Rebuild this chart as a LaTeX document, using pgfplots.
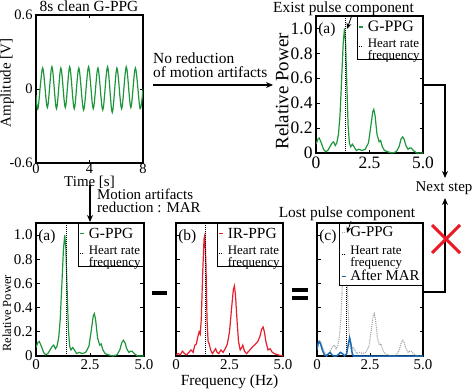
\documentclass[border=0pt]{standalone}
\usepackage{fontspec}
\setmainfont{Liberation Serif}
\usepackage{pgfplots}
\pgfplotsset{compat=1.18}
\usepackage{pgfplotstable}
\usetikzlibrary{arrows.meta}

\definecolor{ppggreen}{RGB}{30,150,60}
\definecolor{irred}{RGB}{230,30,45}
\definecolor{marblue}{RGB}{25,105,180}
\definecolor{xred}{RGB}{235,25,35}
\definecolor{ppggray}{RGB}{165,165,165}

\newcommand{\fs}[1]{\fontsize{#1}{#1}\selectfont}

\pgfplotstableread{
t v
0 -0.05
0.15 -0.16
0.5 0.17
0.85 -0.15
1.19 0.18
1.53 -0.16
1.86 0.17
2.19 -0.15
2.52 0.18
2.86 -0.16
3.2 0.17
3.56 -0.17
3.93 0.18
4.28 -0.16
4.63 0.17
4.99 -0.17
5.35 0.18
5.7 -0.19
6.05 0.17
6.4 -0.16
6.75 0.18
7.09 -0.15
7.43 0.17
7.78 -0.16
8.0 0.0
}\signal

\pgfplotstableread{
f p
0 0.07
0.08 0.11
0.15 0.12
0.25 0.08
0.35 0.03
0.45 0.01
0.55 0.02
0.65 0.05
0.75 0.08
0.82 0.09
0.9 0.06
0.97 0.08
1.05 0.15
1.12 0.3
1.2 0.6
1.27 0.88
1.33 1.0
1.38 0.9
1.44 0.55
1.5 0.22
1.56 0.08
1.62 0.05
1.7 0.07
1.78 0.05
1.88 0.02
2.0 0.03
2.15 0.02
2.3 0.03
2.45 0.08
2.55 0.2
2.65 0.33
2.7 0.35
2.76 0.3
2.85 0.15
2.95 0.09
3.02 0.1
3.1 0.05
3.2 0.02
3.35 0.01
3.55 0.0
3.75 0.01
3.88 0.05
3.97 0.11
4.05 0.13
4.12 0.11
4.2 0.06
4.3 0.03
4.38 0.04
4.45 0.04
4.55 0.02
4.7 0.0
5.0 0.0
}\gppg

\pgfplotstableread{
f p
0 0.01
0.1 0.02
0.2 0.01
0.3 0.04
0.4 0.02
0.5 0.01
0.6 0.03
0.7 0.05
0.8 0.03
0.88 0.09
0.95 0.1
1.02 0.16
1.08 0.2
1.13 0.18
1.18 0.3
1.25 0.7
1.31 0.97
1.35 1.0
1.4 0.75
1.45 0.3
1.5 0.12
1.55 0.1
1.62 0.05
1.7 0.02
1.78 0.04
1.85 0.06
1.92 0.03
2.0 0.02
2.1 0.05
2.2 0.03
2.3 0.06
2.4 0.1
2.5 0.2
2.6 0.4
2.68 0.55
2.73 0.58
2.78 0.5
2.85 0.3
2.92 0.12
3.0 0.05
3.07 0.07
3.12 0.09
3.2 0.04
3.3 0.02
3.45 0.05
3.6 0.08
3.72 0.1
3.82 0.12
3.92 0.16
4.0 0.22
4.07 0.24
4.13 0.2
4.2 0.12
4.3 0.05
4.4 0.06
4.5 0.03
4.6 0.02
4.75 0.01
5.0 0.0
}\irppg

\pgfplotstableread{
f p
0 0.05
0.05 0.1
0.1 0.12
0.17 0.1
0.25 0.05
0.35 0.01
0.45 0.0
0.55 0.02
0.62 0.03
0.7 0.01
0.8 0.0
0.9 0.0
1.0 0.01
1.1 0.03
1.2 0.02
1.3 0.0
1.4 0.02
1.48 0.1
1.54 0.15
1.6 0.1
1.66 0.02
1.72 0.0
5.0 0.0
}\mar

\pgfplotsset{
  base/.style={
    scale only axis,
    anchor=south west,
    axis line style={line width=1.3bp},
    tick align=inside,
    major tick length=3.5bp,
    tick style={line width=0.9bp, black},
    /pgf/number format/assume math mode=true,
  },
  spec/.style={
    base,
    xmin=0, xmax=5, ymin=0, ymax=1.1,
    xtick={0,2.5,5}, xticklabels={0,2.5,5.0},
    ytick={0,0.2,0.4,0.6,0.8,1.0},
    yticklabels={0,0.2,0.4,0.6,0.8,1.0},
    legend cell align=left,
    legend image code/.code={\draw[##1] (0bp,0bp) -- (4bp,0bp);},
    legend style={at={(rel axis cs:1,1)}, anchor=north east, draw=black,
      line width=0.9bp, inner xsep=1bp, inner ysep=2.5bp, row sep=1.5bp, column sep=2bp},
  },
}

\begin{document}
\begin{tikzpicture}[x=1bp,y=1bp]
\useasboundingbox (0,0) rectangle (474,390);

% ---------- time signal
\begin{axis}[base, at={(36bp,227bp)}, width=107bp, height=148bp,
  xmin=0, xmax=8, ymin=-0.6, ymax=0.6, xtick={0,4,8}, ytick={-0.6,0,0.6},
  ticklabel style={font=\fs{14.5}},
  xticklabel style={yshift=3bp},
  xlabel={Time [s]}, ylabel={Amplitude [V]},
  xlabel style={font=\fs{15}, at={(rel axis cs:0.5,-0.13)}, anchor=center},
  ylabel style={font=\fs{15}, at={(rel axis cs:-0.27,0.54)}, anchor=center},
]
\addplot[ppggreen, line width=1.2bp, smooth, tension=0.5] table {\signal};
\end{axis}

% ---------- top right spectrum
\begin{axis}[spec, at={(316bp,237bp)}, width=107bp, height=137bp,
  ticklabel style={font=\fs{17.5}},
  ylabel={Relative Power},
  ylabel style={font=\fs{19}, at={(rel axis cs:-0.318,0.45)}, anchor=center},
  legend style={font=\fs{16}},
]
\addplot[ppggreen, line width=1.2bp] table {\gppg};
\addlegendentry{G-PPG}
\addplot[black, densely dotted, line width=1bp] coordinates {(1.4,0) (1.4,1.1)};
\addlegendentry{\fs{13}\begin{tabular}{@{}l@{}}Heart rate\\[-1bp]frequency\end{tabular}}
\node[anchor=north west, font=\fs{15.5}, inner sep=1bp] at (rel axis cs:0.01,0.96) {(a)};
\end{axis}

% ---------- bottom (a)
\begin{axis}[spec, at={(36bp,34bp)}, width=108bp, height=133bp,
  ticklabel style={font=\fs{15}},
  ylabel={Relative Power},
  ylabel style={font=\fs{12.5}, at={(rel axis cs:-0.27,0.32)}, anchor=center},
  legend style={font=\fs{15.5}},
]
\addplot[ppggreen, line width=1.2bp] table {\gppg};
\addlegendentry{G-PPG}
\addplot[black, densely dotted, line width=1bp] coordinates {(1.4,0) (1.4,1.1)};
\addlegendentry{\fs{13}\begin{tabular}{@{}l@{}}Heart rate\\[-1bp]frequency\end{tabular}}
\node[anchor=north west, font=\fs{15.5}, inner sep=1bp] at (rel axis cs:0.01,0.96) {(a)};
\end{axis}

% ---------- bottom (b)
\begin{axis}[spec, at={(176bp,34bp)}, width=107bp, height=133bp,
  ticklabel style={font=\fs{15}}, yticklabels={},
  xlabel={Frequency (Hz)},
  xlabel style={font=\fs{15.5}, at={(rel axis cs:0.5,-0.195)}, anchor=center},
  legend style={font=\fs{15.5}},
]
\addplot[irred, line width=1.2bp] table {\irppg};
\addlegendentry{IR-PPG}
\addplot[black, densely dotted, line width=1bp] coordinates {(1.4,0) (1.4,1.1)};
\addlegendentry{\fs{13}\begin{tabular}{@{}l@{}}Heart rate\\[-1bp]frequency\end{tabular}}
\node[anchor=north west, font=\fs{15.5}, inner sep=1bp] at (rel axis cs:0.01,0.96) {(b)};
\end{axis}

% ---------- bottom (c)
\begin{axis}[spec, at={(317bp,34bp)}, width=106bp, height=133bp,
  ticklabel style={font=\fs{15}}, yticklabels={},
  legend style={font=\fs{15}, row sep=3.5bp, inner ysep=1.5bp},
]
\addplot[ppggray, densely dotted, line width=1.1bp] table {\gppg};
\addlegendentry{G-PPG}
\addplot[black, densely dotted, line width=1bp] coordinates {(1.4,0) (1.4,1.1)};
\addlegendentry{\fs{13}\begin{tabular}{@{}l@{}}Heart rate\\[-1bp]frequency\end{tabular}}
\addplot[marblue, line width=1.5bp] table {\mar};
\addlegendentry{After MAR}
\node[anchor=north west, font=\fs{15.5}, inner sep=1bp] at (rel axis cs:0.01,0.96) {(c)};
\end{axis}

% ---------- annotations
\node[anchor=base, font=\fs{15.5}, inner sep=0] at (89,378.3) {8s clean G-PPG};
\node[anchor=base, font=\fs{15.5}, inner sep=0] at (343.5,378) {Exist pulse component};
\node[anchor=base, font=\fs{15.5}, inner sep=0] at (347,173) {Lost pulse component};
\draw[line width=0.8bp, -{Stealth[length=6bp,width=5bp]}] (352,375) -- (347,361);
\draw[line width=0.8bp, -{Stealth[length=6bp,width=5bp]}] (351,169) -- (347,157);

\node[anchor=base west, font=\fs{15.5}, inner sep=0] at (153,326.5) {No reduction};
\node[anchor=base west, font=\fs{15.5}, inner sep=0] at (153,312.5) {of motion artifacts};
\draw[line width=1.3bp, -{Stealth[length=7bp,width=6bp]}] (153,305) -- (273,305);

\node[anchor=base west, font=\fs{15}, inner sep=0] at (97,190.7) {Motion artifacts};
\node[anchor=base west, font=\fs{15}, inner sep=0] at (97,177.3) {reduction : MAR};
\draw[line width=1.3bp, -{Stealth[length=7bp,width=6bp]}] (90,205) -- (90,168);

\draw[line width=1.3bp, -{Stealth[length=7bp,width=6bp]}] (423,305) -- (445,305) -- (445,212);
\node[anchor=center, font=\fs{15}, inner sep=0] at (444,202) {Next step};
\draw[line width=1.3bp, -{Stealth[length=7bp,width=6bp]}] (424,98) -- (445,98) -- (445,192);
\draw[xred, line width=3bp] (432,165) -- (460,137);
\draw[xred, line width=3bp] (432,137) -- (460,165);

\draw[line width=4.5bp] (152,97) -- (167,97);
\draw[line width=4bp] (292,100) -- (308,100);
\draw[line width=4bp] (292,92) -- (308,92);
\end{tikzpicture}
\end{document}
